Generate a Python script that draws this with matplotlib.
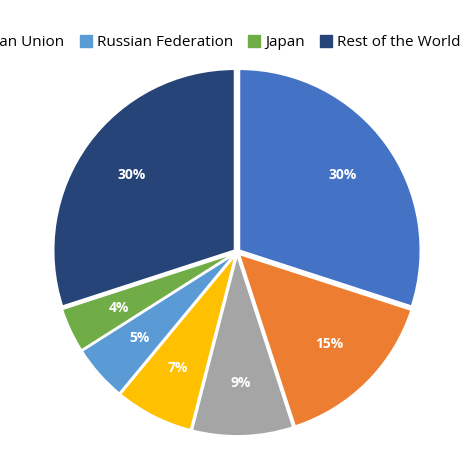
import numpy as np
import matplotlib.pyplot as plt
from matplotlib.patches import Patch

labels = ["China", "United States", "European Union", "India", "Russian Federation", "Japan", "Rest of the World"]
values = [30, 15, 9, 7, 5, 4, 30]
colors = ["#4472C4", "#ED7D31", "#A5A5A5", "#FFC000", "#5B9BD5", "#70AD47", "#264478"]

plt.rcParams['font.family'] = ['Open Sans', 'DejaVu Sans']
fig = plt.figure(figsize=(4.74, 4.74), dpi=100)
ax = fig.add_axes([(237 - 185) / 474, (474 - 252 - 185) / 474, 370 / 474, 370 / 474])
wedges, texts = ax.pie(values, colors=colors, startangle=90, counterclock=False,
                       explode=[0.015] * len(values),
                       wedgeprops=dict(edgecolor="white", linewidth=1.5))
for w, v in zip(wedges, values):
    ang = np.deg2rad((w.theta1 + w.theta2) / 2)
    r = 0.72
    ax.text(r * np.cos(ang), r * np.sin(ang), f"{v}%", color="white",
            fontsize=10, fontweight="bold", ha="center", va="center")
ax.set_xlim(-1.02, 1.02)
ax.set_ylim(-1.02, 1.02)
ax.set_aspect("equal")
handles = [Patch(color=c, label=l) for c, l in zip(colors, labels)]
fig.legend(handles=handles, loc="upper right", bbox_to_anchor=(1.0, 0.955), ncol=5,
           frameon=False, fontsize=11, handlelength=0.8, handleheight=0.8,
           columnspacing=1.0, handletextpad=0.3, labelspacing=0.1)
fig.savefig("out.png", dpi=100)
